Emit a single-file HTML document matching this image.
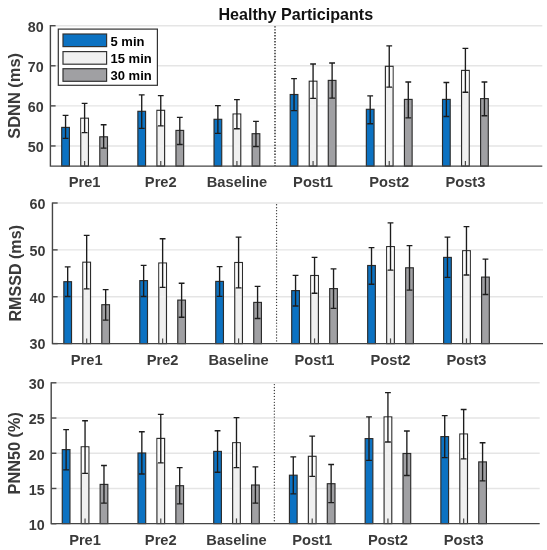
<!DOCTYPE html>
<html lang="en"><head><meta charset="utf-8"><title>Healthy Participants</title>
<style>html,body{margin:0;padding:0;background:#fff}svg{display:block}svg text{font-family:"Liberation Sans",Arial,Helvetica,sans-serif;font-weight:bold}</style></head>
<body>
<svg width="547" height="550" viewBox="0 0 547 550" font-family='"Liberation Sans", Arial, Helvetica, sans-serif' font-weight="bold">
<rect width="547" height="550" fill="#fff"/>
<g id="panel1">
<line x1="50.40" x2="542.30" y1="25.70" y2="25.70" stroke="#e5e5e5" stroke-width="1.4"/>
<line x1="50.40" x2="542.30" y1="65.79" y2="65.79" stroke="#e5e5e5" stroke-width="1.4"/>
<line x1="50.40" x2="542.30" y1="105.87" y2="105.87" stroke="#e5e5e5" stroke-width="1.4"/>
<line x1="50.40" x2="542.30" y1="145.96" y2="145.96" stroke="#e5e5e5" stroke-width="1.4"/>
<line x1="275.00" x2="275.00" y1="26.20" y2="166.10" stroke="#4a4a4a" stroke-width="1.7" stroke-dasharray="1.4 1.56"/>
<rect x="61.71" y="127.40" width="7.70" height="38.70" fill="#0c72c2" stroke="#2c2c2c" stroke-width="1.15"/>
<rect x="80.75" y="118.20" width="7.70" height="47.90" fill="#f0f0f0" stroke="#2c2c2c" stroke-width="1.15"/>
<rect x="81.45" y="118.90" width="6.30" height="13.70" fill="#fbfbfb"/>
<rect x="99.79" y="136.80" width="7.70" height="29.30" fill="#a0a0a3" stroke="#2c2c2c" stroke-width="1.15"/>
<rect x="137.87" y="111.30" width="7.70" height="54.80" fill="#0c72c2" stroke="#2c2c2c" stroke-width="1.15"/>
<rect x="156.91" y="110.30" width="7.70" height="55.80" fill="#f0f0f0" stroke="#2c2c2c" stroke-width="1.15"/>
<rect x="157.61" y="111.00" width="6.30" height="14.80" fill="#fbfbfb"/>
<rect x="175.95" y="130.40" width="7.70" height="35.70" fill="#a0a0a3" stroke="#2c2c2c" stroke-width="1.15"/>
<rect x="214.03" y="119.30" width="7.70" height="46.80" fill="#0c72c2" stroke="#2c2c2c" stroke-width="1.15"/>
<rect x="233.07" y="114.00" width="7.70" height="52.10" fill="#f0f0f0" stroke="#2c2c2c" stroke-width="1.15"/>
<rect x="233.77" y="114.70" width="6.30" height="14.00" fill="#fbfbfb"/>
<rect x="252.11" y="133.70" width="7.70" height="32.40" fill="#a0a0a3" stroke="#2c2c2c" stroke-width="1.15"/>
<rect x="290.19" y="94.50" width="7.70" height="71.60" fill="#0c72c2" stroke="#2c2c2c" stroke-width="1.15"/>
<rect x="309.23" y="81.20" width="7.70" height="84.90" fill="#f0f0f0" stroke="#2c2c2c" stroke-width="1.15"/>
<rect x="309.93" y="81.90" width="6.30" height="16.40" fill="#fbfbfb"/>
<rect x="328.27" y="80.40" width="7.70" height="85.70" fill="#a0a0a3" stroke="#2c2c2c" stroke-width="1.15"/>
<rect x="366.35" y="109.30" width="7.70" height="56.80" fill="#0c72c2" stroke="#2c2c2c" stroke-width="1.15"/>
<rect x="385.39" y="66.30" width="7.70" height="99.80" fill="#f0f0f0" stroke="#2c2c2c" stroke-width="1.15"/>
<rect x="386.09" y="67.00" width="6.30" height="20.10" fill="#fbfbfb"/>
<rect x="404.43" y="99.40" width="7.70" height="66.70" fill="#a0a0a3" stroke="#2c2c2c" stroke-width="1.15"/>
<rect x="442.51" y="99.40" width="7.70" height="66.70" fill="#0c72c2" stroke="#2c2c2c" stroke-width="1.15"/>
<rect x="461.55" y="70.40" width="7.70" height="95.70" fill="#f0f0f0" stroke="#2c2c2c" stroke-width="1.15"/>
<rect x="462.25" y="71.10" width="6.30" height="21.10" fill="#fbfbfb"/>
<rect x="480.59" y="98.60" width="7.70" height="67.50" fill="#a0a0a3" stroke="#2c2c2c" stroke-width="1.15"/>
<path d="M50.40 25.10V166.10H542.30" fill="none" stroke="#454545" stroke-width="1.4"/>
<line x1="50.40" x2="55.60" y1="25.70" y2="25.70" stroke="#4a4a4a" stroke-width="1.4"/>
<text x="43.70" y="31.95" font-size="14.3" fill="#3a3a3a" text-anchor="end">80</text>
<line x1="50.40" x2="55.60" y1="65.79" y2="65.79" stroke="#4a4a4a" stroke-width="1.4"/>
<text x="43.70" y="72.04" font-size="14.3" fill="#3a3a3a" text-anchor="end">70</text>
<line x1="50.40" x2="55.60" y1="105.87" y2="105.87" stroke="#4a4a4a" stroke-width="1.4"/>
<text x="43.70" y="112.12" font-size="14.3" fill="#3a3a3a" text-anchor="end">60</text>
<line x1="50.40" x2="55.60" y1="145.96" y2="145.96" stroke="#4a4a4a" stroke-width="1.4"/>
<text x="43.70" y="152.21" font-size="14.3" fill="#3a3a3a" text-anchor="end">50</text>
<line x1="84.60" x2="84.60" y1="166.10" y2="160.90" stroke="#4a4a4a" stroke-width="1.2"/>
<text x="84.60" y="187.40" font-size="14.67" fill="#3a3a3a" text-anchor="middle">Pre1</text>
<line x1="160.76" x2="160.76" y1="166.10" y2="160.90" stroke="#4a4a4a" stroke-width="1.2"/>
<text x="160.76" y="187.40" font-size="14.67" fill="#3a3a3a" text-anchor="middle">Pre2</text>
<line x1="236.92" x2="236.92" y1="166.10" y2="160.90" stroke="#4a4a4a" stroke-width="1.2"/>
<text x="236.92" y="187.40" font-size="14.67" fill="#3a3a3a" text-anchor="middle">Baseline</text>
<line x1="313.08" x2="313.08" y1="166.10" y2="160.90" stroke="#4a4a4a" stroke-width="1.2"/>
<text x="313.08" y="187.40" font-size="14.67" fill="#3a3a3a" text-anchor="middle">Post1</text>
<line x1="389.24" x2="389.24" y1="166.10" y2="160.90" stroke="#4a4a4a" stroke-width="1.2"/>
<text x="389.24" y="187.40" font-size="14.67" fill="#3a3a3a" text-anchor="middle">Post2</text>
<line x1="465.40" x2="465.40" y1="166.10" y2="160.90" stroke="#4a4a4a" stroke-width="1.2"/>
<text x="465.40" y="187.40" font-size="14.67" fill="#3a3a3a" text-anchor="middle">Post3</text>
<path d="M65.56 115.40V138.40M62.66 115.40h5.8M62.66 138.40h5.8" fill="none" stroke="#1c1c1c" stroke-width="1.35"/>
<path d="M84.60 103.40V132.60M81.70 103.40h5.8M81.70 132.60h5.8" fill="none" stroke="#1c1c1c" stroke-width="1.35"/>
<path d="M103.64 124.75V148.10M100.74 124.75h5.8M100.74 148.10h5.8" fill="none" stroke="#1c1c1c" stroke-width="1.35"/>
<path d="M141.72 94.80V128.40M138.82 94.80h5.8M138.82 128.40h5.8" fill="none" stroke="#1c1c1c" stroke-width="1.35"/>
<path d="M160.76 95.60V125.80M157.86 95.60h5.8M157.86 125.80h5.8" fill="none" stroke="#1c1c1c" stroke-width="1.35"/>
<path d="M179.80 117.30V144.50M176.90 117.30h5.8M176.90 144.50h5.8" fill="none" stroke="#1c1c1c" stroke-width="1.35"/>
<path d="M217.88 105.60V133.40M214.98 105.60h5.8M214.98 133.40h5.8" fill="none" stroke="#1c1c1c" stroke-width="1.35"/>
<path d="M236.92 99.60V128.70M234.02 99.60h5.8M234.02 128.70h5.8" fill="none" stroke="#1c1c1c" stroke-width="1.35"/>
<path d="M255.96 121.40V146.50M253.06 121.40h5.8M253.06 146.50h5.8" fill="none" stroke="#1c1c1c" stroke-width="1.35"/>
<path d="M294.04 78.60V110.60M291.14 78.60h5.8M291.14 110.60h5.8" fill="none" stroke="#1c1c1c" stroke-width="1.35"/>
<path d="M313.08 64.00V98.30M310.18 64.00h5.8M310.18 98.30h5.8" fill="none" stroke="#1c1c1c" stroke-width="1.35"/>
<path d="M332.12 63.00V98.10M329.22 63.00h5.8M329.22 98.10h5.8" fill="none" stroke="#1c1c1c" stroke-width="1.35"/>
<path d="M370.20 95.80V123.70M367.30 95.80h5.8M367.30 123.70h5.8" fill="none" stroke="#1c1c1c" stroke-width="1.35"/>
<path d="M389.24 45.90V87.10M386.34 45.90h5.8M386.34 87.10h5.8" fill="none" stroke="#1c1c1c" stroke-width="1.35"/>
<path d="M408.28 82.00V117.80M405.38 82.00h5.8M405.38 117.80h5.8" fill="none" stroke="#1c1c1c" stroke-width="1.35"/>
<path d="M446.36 82.50V116.50M443.46 82.50h5.8M443.46 116.50h5.8" fill="none" stroke="#1c1c1c" stroke-width="1.35"/>
<path d="M465.40 48.40V92.20M462.50 48.40h5.8M462.50 92.20h5.8" fill="none" stroke="#1c1c1c" stroke-width="1.35"/>
<path d="M484.44 82.00V115.70M481.54 82.00h5.8M481.54 115.70h5.8" fill="none" stroke="#1c1c1c" stroke-width="1.35"/>
<text transform="translate(20.0 95.85) rotate(-90)" font-size="16.4" fill="#3a3a3a" text-anchor="middle">SDNN (ms)</text>
</g>
<g id="panel2">
<line x1="52.45" x2="543.00" y1="203.00" y2="203.00" stroke="#e5e5e5" stroke-width="1.4"/>
<line x1="52.45" x2="543.00" y1="249.87" y2="249.87" stroke="#e5e5e5" stroke-width="1.4"/>
<line x1="52.45" x2="543.00" y1="296.73" y2="296.73" stroke="#e5e5e5" stroke-width="1.4"/>
<line x1="276.57" x2="276.57" y1="204.75" y2="343.60" stroke="#3a3a3a" stroke-width="1.35" stroke-linecap="round" stroke-dasharray="0.01 2.95"/>
<rect x="63.83" y="281.70" width="7.70" height="61.90" fill="#0c72c2" stroke="#2c2c2c" stroke-width="1.15"/>
<rect x="82.82" y="262.20" width="7.70" height="81.40" fill="#f0f0f0" stroke="#2c2c2c" stroke-width="1.15"/>
<rect x="83.52" y="262.90" width="6.30" height="25.90" fill="#fbfbfb"/>
<rect x="101.81" y="304.70" width="7.70" height="38.90" fill="#a0a0a3" stroke="#2c2c2c" stroke-width="1.15"/>
<rect x="139.79" y="280.60" width="7.70" height="63.00" fill="#0c72c2" stroke="#2c2c2c" stroke-width="1.15"/>
<rect x="158.78" y="263.00" width="7.70" height="80.60" fill="#f0f0f0" stroke="#2c2c2c" stroke-width="1.15"/>
<rect x="159.48" y="263.70" width="6.30" height="23.60" fill="#fbfbfb"/>
<rect x="177.77" y="300.10" width="7.70" height="43.50" fill="#a0a0a3" stroke="#2c2c2c" stroke-width="1.15"/>
<rect x="215.75" y="281.40" width="7.70" height="62.20" fill="#0c72c2" stroke="#2c2c2c" stroke-width="1.15"/>
<rect x="234.74" y="262.50" width="7.70" height="81.10" fill="#f0f0f0" stroke="#2c2c2c" stroke-width="1.15"/>
<rect x="235.44" y="263.20" width="6.30" height="24.60" fill="#fbfbfb"/>
<rect x="253.73" y="302.40" width="7.70" height="41.20" fill="#a0a0a3" stroke="#2c2c2c" stroke-width="1.15"/>
<rect x="291.71" y="290.60" width="7.70" height="53.00" fill="#0c72c2" stroke="#2c2c2c" stroke-width="1.15"/>
<rect x="310.70" y="275.50" width="7.70" height="68.10" fill="#f0f0f0" stroke="#2c2c2c" stroke-width="1.15"/>
<rect x="311.40" y="276.20" width="6.30" height="17.00" fill="#fbfbfb"/>
<rect x="329.69" y="288.60" width="7.70" height="55.00" fill="#a0a0a3" stroke="#2c2c2c" stroke-width="1.15"/>
<rect x="367.67" y="265.50" width="7.70" height="78.10" fill="#0c72c2" stroke="#2c2c2c" stroke-width="1.15"/>
<rect x="386.66" y="246.60" width="7.70" height="97.00" fill="#f0f0f0" stroke="#2c2c2c" stroke-width="1.15"/>
<rect x="387.36" y="247.30" width="6.30" height="22.80" fill="#fbfbfb"/>
<rect x="405.65" y="267.80" width="7.70" height="75.80" fill="#a0a0a3" stroke="#2c2c2c" stroke-width="1.15"/>
<rect x="443.63" y="257.40" width="7.70" height="86.20" fill="#0c72c2" stroke="#2c2c2c" stroke-width="1.15"/>
<rect x="462.62" y="250.70" width="7.70" height="92.90" fill="#f0f0f0" stroke="#2c2c2c" stroke-width="1.15"/>
<rect x="463.32" y="251.40" width="6.30" height="23.60" fill="#fbfbfb"/>
<rect x="481.61" y="277.10" width="7.70" height="66.50" fill="#a0a0a3" stroke="#2c2c2c" stroke-width="1.15"/>
<path d="M52.45 202.40V343.60H543.00" fill="none" stroke="#454545" stroke-width="1.4"/>
<line x1="52.45" x2="57.65" y1="203.00" y2="203.00" stroke="#4a4a4a" stroke-width="1.4"/>
<text x="45.45" y="208.80" font-size="14.3" fill="#3a3a3a" text-anchor="end">60</text>
<line x1="52.45" x2="57.65" y1="249.87" y2="249.87" stroke="#4a4a4a" stroke-width="1.4"/>
<text x="45.45" y="255.67" font-size="14.3" fill="#3a3a3a" text-anchor="end">50</text>
<line x1="52.45" x2="57.65" y1="296.73" y2="296.73" stroke="#4a4a4a" stroke-width="1.4"/>
<text x="45.45" y="302.53" font-size="14.3" fill="#3a3a3a" text-anchor="end">40</text>
<line x1="52.45" x2="57.65" y1="343.60" y2="343.60" stroke="#4a4a4a" stroke-width="1.4"/>
<text x="45.45" y="349.40" font-size="14.3" fill="#3a3a3a" text-anchor="end">30</text>
<line x1="86.67" x2="86.67" y1="343.60" y2="338.40" stroke="#4a4a4a" stroke-width="1.2"/>
<text x="86.67" y="364.90" font-size="14.67" fill="#3a3a3a" text-anchor="middle">Pre1</text>
<line x1="162.63" x2="162.63" y1="343.60" y2="338.40" stroke="#4a4a4a" stroke-width="1.2"/>
<text x="162.63" y="364.90" font-size="14.67" fill="#3a3a3a" text-anchor="middle">Pre2</text>
<line x1="238.59" x2="238.59" y1="343.60" y2="338.40" stroke="#4a4a4a" stroke-width="1.2"/>
<text x="238.59" y="364.90" font-size="14.67" fill="#3a3a3a" text-anchor="middle">Baseline</text>
<line x1="314.55" x2="314.55" y1="343.60" y2="338.40" stroke="#4a4a4a" stroke-width="1.2"/>
<text x="314.55" y="364.90" font-size="14.67" fill="#3a3a3a" text-anchor="middle">Post1</text>
<line x1="390.51" x2="390.51" y1="343.60" y2="338.40" stroke="#4a4a4a" stroke-width="1.2"/>
<text x="390.51" y="364.90" font-size="14.67" fill="#3a3a3a" text-anchor="middle">Post2</text>
<line x1="466.47" x2="466.47" y1="343.60" y2="338.40" stroke="#4a4a4a" stroke-width="1.2"/>
<text x="466.47" y="364.90" font-size="14.67" fill="#3a3a3a" text-anchor="middle">Post3</text>
<path d="M67.68 266.80V296.50M64.78 266.80h5.8M64.78 296.50h5.8" fill="none" stroke="#1c1c1c" stroke-width="1.35"/>
<path d="M86.67 235.30V288.80M83.77 235.30h5.8M83.77 288.80h5.8" fill="none" stroke="#1c1c1c" stroke-width="1.35"/>
<path d="M105.66 289.60V320.10M102.76 289.60h5.8M102.76 320.10h5.8" fill="none" stroke="#1c1c1c" stroke-width="1.35"/>
<path d="M143.64 265.30V296.50M140.74 265.30h5.8M140.74 296.50h5.8" fill="none" stroke="#1c1c1c" stroke-width="1.35"/>
<path d="M162.63 238.70V287.30M159.73 238.70h5.8M159.73 287.30h5.8" fill="none" stroke="#1c1c1c" stroke-width="1.35"/>
<path d="M181.62 283.20V317.20M178.72 283.20h5.8M178.72 317.20h5.8" fill="none" stroke="#1c1c1c" stroke-width="1.35"/>
<path d="M219.60 266.60V296.30M216.70 266.60h5.8M216.70 296.30h5.8" fill="none" stroke="#1c1c1c" stroke-width="1.35"/>
<path d="M238.59 237.10V287.80M235.69 237.10h5.8M235.69 287.80h5.8" fill="none" stroke="#1c1c1c" stroke-width="1.35"/>
<path d="M257.58 286.30V318.50M254.68 286.30h5.8M254.68 318.50h5.8" fill="none" stroke="#1c1c1c" stroke-width="1.35"/>
<path d="M295.56 275.30V306.00M292.66 275.30h5.8M292.66 306.00h5.8" fill="none" stroke="#1c1c1c" stroke-width="1.35"/>
<path d="M314.55 257.40V293.20M311.65 257.40h5.8M311.65 293.20h5.8" fill="none" stroke="#1c1c1c" stroke-width="1.35"/>
<path d="M333.54 268.90V308.30M330.64 268.90h5.8M330.64 308.30h5.8" fill="none" stroke="#1c1c1c" stroke-width="1.35"/>
<path d="M371.52 247.60V284.20M368.62 247.60h5.8M368.62 284.20h5.8" fill="none" stroke="#1c1c1c" stroke-width="1.35"/>
<path d="M390.51 222.80V270.10M387.61 222.80h5.8M387.61 270.10h5.8" fill="none" stroke="#1c1c1c" stroke-width="1.35"/>
<path d="M409.50 245.60V290.10M406.60 245.60h5.8M406.60 290.10h5.8" fill="none" stroke="#1c1c1c" stroke-width="1.35"/>
<path d="M447.48 237.10V277.30M444.58 237.10h5.8M444.58 277.30h5.8" fill="none" stroke="#1c1c1c" stroke-width="1.35"/>
<path d="M466.47 226.60V275.00M463.57 226.60h5.8M463.57 275.00h5.8" fill="none" stroke="#1c1c1c" stroke-width="1.35"/>
<path d="M485.46 259.10V294.50M482.56 259.10h5.8M482.56 294.50h5.8" fill="none" stroke="#1c1c1c" stroke-width="1.35"/>
<text transform="translate(21.3 273.30) rotate(-90)" font-size="16.1" fill="#3a3a3a" text-anchor="middle">RMSSD (ms)</text>
</g>
<g id="panel3">
<line x1="51.20" x2="539.70" y1="382.80" y2="382.80" stroke="#e5e5e5" stroke-width="1.4"/>
<line x1="51.20" x2="539.70" y1="418.03" y2="418.03" stroke="#e5e5e5" stroke-width="1.4"/>
<line x1="51.20" x2="539.70" y1="453.25" y2="453.25" stroke="#e5e5e5" stroke-width="1.4"/>
<line x1="51.20" x2="539.70" y1="488.48" y2="488.48" stroke="#e5e5e5" stroke-width="1.4"/>
<line x1="274.35" x2="274.35" y1="384.55" y2="523.60" stroke="#3a3a3a" stroke-width="1.35" stroke-linecap="round" stroke-dasharray="0.01 2.95"/>
<rect x="62.27" y="449.60" width="7.70" height="74.00" fill="#0c72c2" stroke="#2c2c2c" stroke-width="1.15"/>
<rect x="81.20" y="446.80" width="7.70" height="76.80" fill="#f0f0f0" stroke="#2c2c2c" stroke-width="1.15"/>
<rect x="81.90" y="447.50" width="6.30" height="25.90" fill="#fbfbfb"/>
<rect x="100.13" y="484.40" width="7.70" height="39.20" fill="#a0a0a3" stroke="#2c2c2c" stroke-width="1.15"/>
<rect x="137.99" y="453.00" width="7.70" height="70.60" fill="#0c72c2" stroke="#2c2c2c" stroke-width="1.15"/>
<rect x="156.92" y="438.40" width="7.70" height="85.20" fill="#f0f0f0" stroke="#2c2c2c" stroke-width="1.15"/>
<rect x="157.62" y="439.10" width="6.30" height="23.80" fill="#fbfbfb"/>
<rect x="175.85" y="485.70" width="7.70" height="37.90" fill="#a0a0a3" stroke="#2c2c2c" stroke-width="1.15"/>
<rect x="213.71" y="451.40" width="7.70" height="72.20" fill="#0c72c2" stroke="#2c2c2c" stroke-width="1.15"/>
<rect x="232.64" y="442.70" width="7.70" height="80.90" fill="#f0f0f0" stroke="#2c2c2c" stroke-width="1.15"/>
<rect x="233.34" y="443.40" width="6.30" height="24.20" fill="#fbfbfb"/>
<rect x="251.57" y="485.00" width="7.70" height="38.60" fill="#a0a0a3" stroke="#2c2c2c" stroke-width="1.15"/>
<rect x="289.43" y="475.20" width="7.70" height="48.40" fill="#0c72c2" stroke="#2c2c2c" stroke-width="1.15"/>
<rect x="308.36" y="456.30" width="7.70" height="67.30" fill="#f0f0f0" stroke="#2c2c2c" stroke-width="1.15"/>
<rect x="309.06" y="457.00" width="6.30" height="19.30" fill="#fbfbfb"/>
<rect x="327.29" y="483.70" width="7.70" height="39.90" fill="#a0a0a3" stroke="#2c2c2c" stroke-width="1.15"/>
<rect x="365.15" y="438.60" width="7.70" height="85.00" fill="#0c72c2" stroke="#2c2c2c" stroke-width="1.15"/>
<rect x="384.08" y="416.90" width="7.70" height="106.70" fill="#f0f0f0" stroke="#2c2c2c" stroke-width="1.15"/>
<rect x="384.78" y="417.60" width="6.30" height="24.40" fill="#fbfbfb"/>
<rect x="403.01" y="453.50" width="7.70" height="70.10" fill="#a0a0a3" stroke="#2c2c2c" stroke-width="1.15"/>
<rect x="440.87" y="436.60" width="7.70" height="87.00" fill="#0c72c2" stroke="#2c2c2c" stroke-width="1.15"/>
<rect x="459.80" y="434.00" width="7.70" height="89.60" fill="#f0f0f0" stroke="#2c2c2c" stroke-width="1.15"/>
<rect x="460.50" y="434.70" width="6.30" height="24.20" fill="#fbfbfb"/>
<rect x="478.73" y="461.90" width="7.70" height="61.70" fill="#a0a0a3" stroke="#2c2c2c" stroke-width="1.15"/>
<path d="M51.20 382.20V523.60H539.70" fill="none" stroke="#454545" stroke-width="1.4"/>
<line x1="51.20" x2="56.40" y1="382.80" y2="382.80" stroke="#4a4a4a" stroke-width="1.4"/>
<text x="44.60" y="389.05" font-size="14.3" fill="#3a3a3a" text-anchor="end">30</text>
<line x1="51.20" x2="56.40" y1="418.03" y2="418.03" stroke="#4a4a4a" stroke-width="1.4"/>
<text x="44.60" y="424.28" font-size="14.3" fill="#3a3a3a" text-anchor="end">25</text>
<line x1="51.20" x2="56.40" y1="453.25" y2="453.25" stroke="#4a4a4a" stroke-width="1.4"/>
<text x="44.60" y="459.50" font-size="14.3" fill="#3a3a3a" text-anchor="end">20</text>
<line x1="51.20" x2="56.40" y1="488.48" y2="488.48" stroke="#4a4a4a" stroke-width="1.4"/>
<text x="44.60" y="494.73" font-size="14.3" fill="#3a3a3a" text-anchor="end">15</text>
<line x1="51.20" x2="56.40" y1="523.70" y2="523.70" stroke="#4a4a4a" stroke-width="1.4"/>
<text x="44.60" y="529.95" font-size="14.3" fill="#3a3a3a" text-anchor="end">10</text>
<line x1="85.05" x2="85.05" y1="523.60" y2="518.40" stroke="#4a4a4a" stroke-width="1.2"/>
<text x="85.05" y="544.90" font-size="14.67" fill="#3a3a3a" text-anchor="middle">Pre1</text>
<line x1="160.77" x2="160.77" y1="523.60" y2="518.40" stroke="#4a4a4a" stroke-width="1.2"/>
<text x="160.77" y="544.90" font-size="14.67" fill="#3a3a3a" text-anchor="middle">Pre2</text>
<line x1="236.49" x2="236.49" y1="523.60" y2="518.40" stroke="#4a4a4a" stroke-width="1.2"/>
<text x="236.49" y="544.90" font-size="14.67" fill="#3a3a3a" text-anchor="middle">Baseline</text>
<line x1="312.21" x2="312.21" y1="523.60" y2="518.40" stroke="#4a4a4a" stroke-width="1.2"/>
<text x="312.21" y="544.90" font-size="14.67" fill="#3a3a3a" text-anchor="middle">Post1</text>
<line x1="387.93" x2="387.93" y1="523.60" y2="518.40" stroke="#4a4a4a" stroke-width="1.2"/>
<text x="387.93" y="544.90" font-size="14.67" fill="#3a3a3a" text-anchor="middle">Post2</text>
<line x1="463.65" x2="463.65" y1="523.60" y2="518.40" stroke="#4a4a4a" stroke-width="1.2"/>
<text x="463.65" y="544.90" font-size="14.67" fill="#3a3a3a" text-anchor="middle">Post3</text>
<path d="M66.12 429.60V469.80M63.22 429.60h5.8M63.22 469.80h5.8" fill="none" stroke="#1c1c1c" stroke-width="1.35"/>
<path d="M85.05 420.70V473.40M82.15 420.70h5.8M82.15 473.40h5.8" fill="none" stroke="#1c1c1c" stroke-width="1.35"/>
<path d="M103.98 465.50V503.10M101.08 465.50h5.8M101.08 503.10h5.8" fill="none" stroke="#1c1c1c" stroke-width="1.35"/>
<path d="M141.84 431.70V474.00M138.94 431.70h5.8M138.94 474.00h5.8" fill="none" stroke="#1c1c1c" stroke-width="1.35"/>
<path d="M160.77 414.30V462.90M157.87 414.30h5.8M157.87 462.90h5.8" fill="none" stroke="#1c1c1c" stroke-width="1.35"/>
<path d="M179.70 467.60V503.90M176.80 467.60h5.8M176.80 503.90h5.8" fill="none" stroke="#1c1c1c" stroke-width="1.35"/>
<path d="M217.56 430.70V472.20M214.66 430.70h5.8M214.66 472.20h5.8" fill="none" stroke="#1c1c1c" stroke-width="1.35"/>
<path d="M236.49 417.60V467.60M233.59 417.60h5.8M233.59 467.60h5.8" fill="none" stroke="#1c1c1c" stroke-width="1.35"/>
<path d="M255.42 466.80V503.10M252.52 466.80h5.8M252.52 503.10h5.8" fill="none" stroke="#1c1c1c" stroke-width="1.35"/>
<path d="M293.28 456.80V493.90M290.38 456.80h5.8M290.38 493.90h5.8" fill="none" stroke="#1c1c1c" stroke-width="1.35"/>
<path d="M312.21 436.10V476.30M309.31 436.10h5.8M309.31 476.30h5.8" fill="none" stroke="#1c1c1c" stroke-width="1.35"/>
<path d="M331.14 464.50V502.60M328.24 464.50h5.8M328.24 502.60h5.8" fill="none" stroke="#1c1c1c" stroke-width="1.35"/>
<path d="M369.00 416.90V460.40M366.10 416.90h5.8M366.10 460.40h5.8" fill="none" stroke="#1c1c1c" stroke-width="1.35"/>
<path d="M387.93 392.60V442.00M385.03 392.60h5.8M385.03 442.00h5.8" fill="none" stroke="#1c1c1c" stroke-width="1.35"/>
<path d="M406.86 431.00V475.50M403.96 431.00h5.8M403.96 475.50h5.8" fill="none" stroke="#1c1c1c" stroke-width="1.35"/>
<path d="M444.72 415.60V457.60M441.82 415.60h5.8M441.82 457.60h5.8" fill="none" stroke="#1c1c1c" stroke-width="1.35"/>
<path d="M463.65 409.50V458.90M460.75 409.50h5.8M460.75 458.90h5.8" fill="none" stroke="#1c1c1c" stroke-width="1.35"/>
<path d="M482.58 442.70V480.90M479.68 442.70h5.8M479.68 480.90h5.8" fill="none" stroke="#1c1c1c" stroke-width="1.35"/>
<text transform="translate(20.0 453.25) rotate(-90)" font-size="16.3" fill="#3a3a3a" text-anchor="middle">PNN50 (%)</text>
</g>
<text x="295.8" y="19.8" font-size="16.1" fill="#111" text-anchor="middle">Healthy Participants</text>
<g id="legend">
<rect x="58.3" y="29.1" width="99.1" height="56.2" fill="#fff" stroke="#333" stroke-width="1.2"/>
<rect x="63" y="34.0" width="43.6" height="12.6" fill="#0c72c2" stroke="#333" stroke-width="1.2"/>
<text x="110.5" y="45.50" font-size="13.0" fill="#000">5 min</text>
<rect x="63" y="51.6" width="43.6" height="12.6" fill="#f0f0f0" stroke="#333" stroke-width="1.2"/>
<text x="110.5" y="62.80" font-size="13.0" fill="#000">15 min</text>
<rect x="63" y="68.7" width="43.6" height="12.6" fill="#a0a0a3" stroke="#333" stroke-width="1.2"/>
<text x="110.5" y="79.90" font-size="13.0" fill="#000">30 min</text>
</g>
</svg>
</body></html>
